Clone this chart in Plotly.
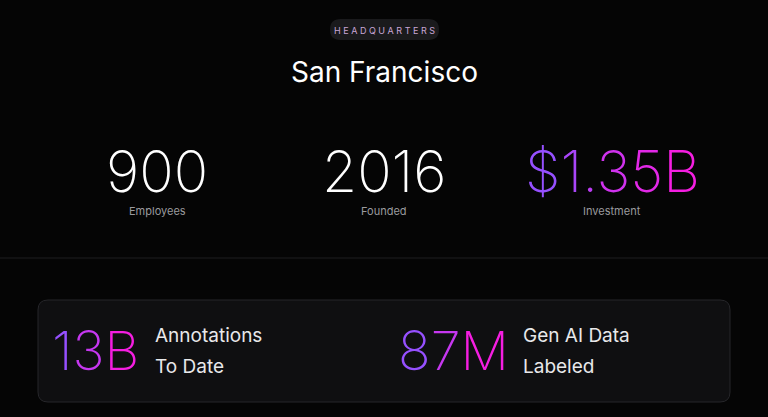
import plotly.graph_objects as go

W, H = 768, 417

stat_values = ["900", "2016", "$1.35B"]
stat_labels = ["Employees", "Founded", "Investment"]
stat_gradient = [False, False, True]

box_values = ["13B", "87M"]
box_lines = [["Annotations", "To Date"], ["Gen AI Data", "Labeled"]]

PURPLE = (150, 80, 255)
PINK = (245, 30, 225)


def gradient(text):
    n = len(text)
    out = ""
    for i, ch in enumerate(text):
        t = i / max(n - 1, 1)
        r, g, b = [round(a + (c - a) * t) for a, c in zip(PURPLE, PINK)]
        out += f"<span style='color:rgb({r},{g},{b})'>{ch}</span>"
    return out


def rounded(x0, y0, x1, y1, r):
    return (f"M{x0+r},{y0} L{x1-r},{y0} Q{x1},{y0} {x1},{y0+r} L{x1},{y1-r} "
            f"Q{x1},{y1} {x1-r},{y1} L{x0+r},{y1} Q{x0},{y1} {x0},{y1-r} "
            f"L{x0},{y0+r} Q{x0},{y0} {x0+r},{y0} Z")


fig = go.Figure()
font = "Inter"

shapes = [
    dict(type="path", path=rounded(330, 19, 439, 40, 10.5),
         fillcolor="#1a1a1c", line=dict(width=0)),
    dict(type="line", x0=0, x1=W, y0=258, y1=258, line=dict(color="#1e1e20", width=1)),
    dict(type="path", path=rounded(38, 300, 730, 402, 10),
         fillcolor="#0f0f11", line=dict(color="#26262a", width=1)),
]

ann = [
    dict(x=384, y=30, text="H E A D Q U A R T E R S", font=dict(size=9, color="#c9a6d6")),
    dict(x=384, y=72, text="San Francisco", font=dict(size=28, color="#ffffff")),
]
for cx, v, lab, g in zip([157, 384, 612], stat_values, stat_labels, stat_gradient):
    ann.append(dict(x=cx, y=171, text=gradient(v) if g else v,
                    font=dict(size=57, color="#ffffff", weight=200)))
    ann.append(dict(x=cx, y=211, text=lab, font=dict(size=11, color="#9a9a9e")))
for x0, v, lines in zip([50, 396], box_values, box_lines):
    ann.append(dict(x=x0, y=350, text=gradient(v), xanchor="left",
                    font=dict(size=54, weight=200)))
    tx = x0 + 103 if v == "13B" else x0 + 125
    for ly, line in zip([335, 366], lines):
        ann.append(dict(x=tx, y=ly, text=line, xanchor="left",
                        font=dict(size=19, color="#e8e8ea")))
for a in ann:
    a.setdefault("xanchor", "center")
    a.update(xref="x", yref="y", yanchor="middle", showarrow=False)
    a["font"].setdefault("family", font)

fig.update_layout(
    width=W, height=H, margin=dict(l=0, r=0, t=0, b=0),
    paper_bgcolor="#050505", plot_bgcolor="#050505",
    xaxis=dict(range=[0, W], visible=False, fixedrange=True),
    yaxis=dict(range=[H, 0], visible=False, fixedrange=True),
    shapes=shapes, annotations=ann, showlegend=False,
)
fig.write_html("out.html", config={"displayModeBar": False})

# drop the browser's default body margin
with open("out.html", encoding="utf-8") as f:
    page = f.read()
page = page.replace("<body>", "<body style='margin:0;background:#050505'>", 1)
with open("out.html", "w", encoding="utf-8") as f:
    f.write(page)
